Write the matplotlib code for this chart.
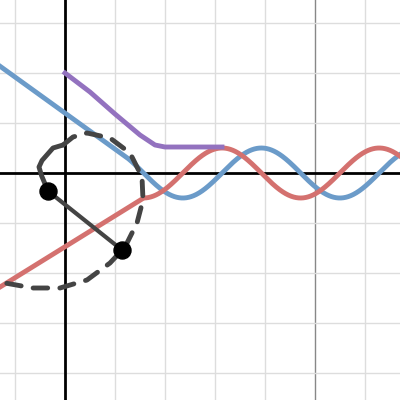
import numpy as np
import matplotlib
matplotlib.use("Agg")
import matplotlib.pyplot as plt

xmin, xmax, ymin, ymax = -1.3, 6.7, -4.54, 3.46

# blue: line then sine
blue_line = (1.2, -0.72)      # intercept, slope
blue_amp, blue_freq = 0.5, 2.0
# red: line then cosine
red_line = (-1.475, 0.62)
red_amp, red_freq = 0.5, 2.0

purple_x = [0, 0.5, 1.0, 1.5, 1.8, 2.0, 3.14]
purple_y = [2.0, 1.62, 1.18, 0.76, 0.56, 0.52, 0.52]

solid_arc_x = [-0.34, -0.47, -0.52, -0.46, -0.24, -0.04]
solid_arc_y = [-0.36, -0.05, 0.12, 0.25, 0.50, 0.56]
dash_x = [-0.04, 0.16, 0.44, 0.9, 1.3, 1.54, 1.56, 1.44, 1.2, 0.9, 0.44, -0.1, -0.64, -1.2, -1.3]
dash_y = [0.56, 0.72, 0.80, 0.70, 0.40, -0.08, -0.54, -1.0, -1.48, -1.80, -2.14, -2.3, -2.3, -2.2, -2.18]
dots_x = [-0.34, 1.14]
dots_y = [-0.36, -1.54]

fig = plt.figure(figsize=(4, 4), dpi=100)
ax = fig.add_axes([0, 0, 1, 1])
ax.set_xlim(xmin, xmax); ax.set_ylim(ymin, ymax)
ax.axis('off')
for v in np.arange(-1, 7):
    ax.axvline(v, color='#dddddd' if v != 5 else '#888888', lw=1, zorder=0)
for v in np.arange(-4, 4):
    ax.axhline(v, color='#dddddd', lw=1, zorder=0)
ax.axvline(0, color='black', lw=2, zorder=1)
ax.axhline(0, color='black', lw=2, zorder=1)

x = np.linspace(xmin, xmax, 2000)
bl = blue_line[0] + blue_line[1] * x
bs = blue_amp * np.sin(blue_freq * x)
i = np.argmax((bl <= bs) & (x > 1))
by = np.where(x < x[i], bl, bs)
rl = red_line[0] + red_line[1] * x
rs = red_amp * np.cos(red_freq * x)
j = np.argmax((rl >= rs) & (x > 1))
ry = np.where(x < x[j], rl, rs)
ax.plot(x, by, color='#6b9bc9', lw=3.5, zorder=3)
ax.plot(x, ry, color='#d4716f', lw=3.5, zorder=3)

from matplotlib.path import Path
ax.plot(purple_x, purple_y, color='#9372bf', lw=3.5, zorder=3)

ax.plot(solid_arc_x, solid_arc_y, color='#444444', lw=3.5, zorder=4, solid_capstyle='round')
ax.plot(dash_x, dash_y, color='#444444', lw=3.5, zorder=4, dashes=(3, 2.5), dash_capstyle='round')
ax.plot(dots_x, dots_y, color='#444444', lw=3, zorder=4)
ax.scatter(dots_x, dots_y, s=150, color='black', zorder=5)
fig.savefig('out.png', dpi=100)
